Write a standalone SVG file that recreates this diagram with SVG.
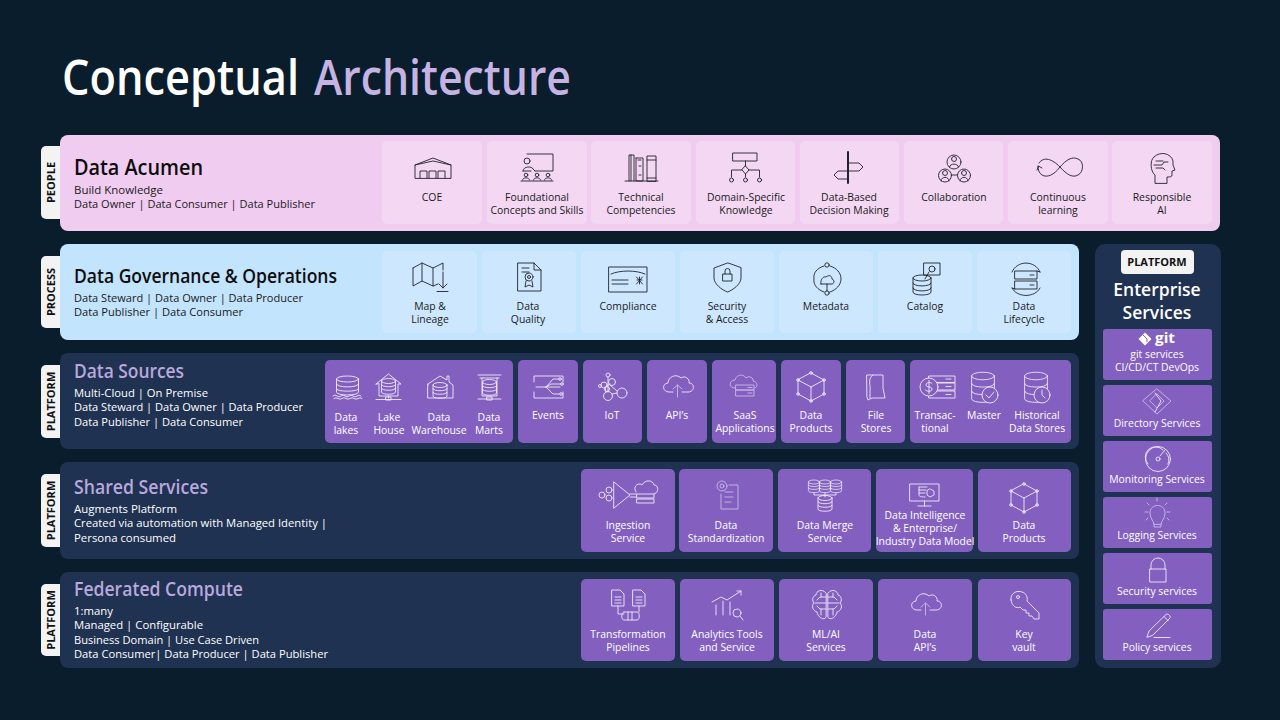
<svg xmlns="http://www.w3.org/2000/svg" width="1280" height="720" viewBox="0 0 1280 720">
<style>
text{font-family:"Open Sans","Noto Sans","Liberation Sans",sans-serif}
.band{fill:#1f3252}
.pc{fill:#f3d7f3}.bc{fill:#cde8fe}.vc{fill:#8360c0}
.tab{fill:#f3f3f3}
.tt{font-size:11px;font-weight:700;fill:#111;text-anchor:middle}
.dl,.wl{font-size:10.4px;text-anchor:middle}
.dl{fill:#1a1a1a}.wl{fill:#fff}
.h{font-size:19px;font-weight:600}
.hd{fill:#0d0d0d}.hv{fill:#b9a8dc}
.sd,.sw{font-size:11px}
.sd{fill:#1a1a1a}.sw{fill:#fff}
.id,.iw{fill:none;stroke-width:.9;stroke-linejoin:round;stroke-linecap:round}
.id{stroke:#22222e}.iw{stroke:#f0eaf8}
.dim{stroke:#c9b9e6}
.cut{fill:#8360c0}
</style>
<defs>
<g id="cube"><path d="M0-14L13-7V7L0 14L-13 7V-7ZM0 0V14M0 0L-13-7M0 0L13-7"/><circle cy="-14" r="1.300"/><circle cx="13" cy="-7" r="1.300"/><circle cx="13" cy="7" r="1.300"/><circle cy="14" r="1.300"/><circle cx="-13" cy="7" r="1.300"/><circle cx="-13" cy="-7" r="1.300"/></g>
<g id="cloudup"><path d="M11 17H7C1 17-1 9 6 8C6 2 14-2 19 3C23 0 28 4 27 8C33 8 33 17 26 17H20"/><path class="dim" d="M15.500 22V10M11 14L15.500 10L20 14"/></g>
<g id="dbs"><ellipse cx="0" cy="0" rx="12" ry="4"/><path d="M-12 0V24C-12 29 12 29 12 24V0M-12 8C-12 13 12 13 12 8M-12 16C-12 21 12 21 12 16"/></g>
<g id="dbm"><ellipse cx="0" cy="0" rx="7" ry="2.500"/><path d="M-7 0V11C-7 14 7 14 7 11V0M-7 3.700C-7 6.500 7 6.500 7 3.700M-7 7.400C-7 10 7 10 7 7.400"/></g>
</defs>
<rect width="1280" height="720" fill="#0a1d2c"/>
<text x="62" y="95" font-size="48" font-weight="600" fill="#fff" textLength="237" lengthAdjust="spacingAndGlyphs">Conceptual</text>
<text x="314" y="95" font-size="48" font-weight="600" fill="#c5b4e3" textLength="257" lengthAdjust="spacingAndGlyphs">Architecture</text>

<g id="tabs">
<path class="tab" d="M60 146H46a5 5 0 0 0-5 5V214a5 5 0 0 0 5 5H60Z"/><text class="tt" transform="translate(54.500 182.500) rotate(-90)">PEOPLE</text>
<path class="tab" d="M60 256H46a5 5 0 0 0-5 5V323a5 5 0 0 0 5 5H60Z"/><text class="tt" transform="translate(54.500 292) rotate(-90)">PROCESS</text>
<path class="tab" d="M60 365H46a5 5 0 0 0-5 5V433a5 5 0 0 0 5 5H60Z"/><text class="tt" transform="translate(54.500 401.500) rotate(-90)">PLATFORM</text>
<path class="tab" d="M60 474H46a5 5 0 0 0-5 5V542a5 5 0 0 0 5 5H60Z"/><text class="tt" transform="translate(54.500 510.500) rotate(-90)">PLATFORM</text>
<path class="tab" d="M60 584H46a5 5 0 0 0-5 5V651a5 5 0 0 0 5 5H60Z"/><text class="tt" transform="translate(54.500 620) rotate(-90)">PLATFORM</text>
</g>

<g id="data-acumen">
<rect x="60" y="135" width="1160" height="96" rx="8" fill="#f0cdf0"/>
<text class="h hd" x="74" y="175" style="font-size:21px" textLength="129" lengthAdjust="spacingAndGlyphs">Data Acumen</text>
<text class="sd" x="74" y="194" textLength="89" lengthAdjust="spacingAndGlyphs">Build Knowledge</text>
<text class="sd" x="74" y="208" textLength="241" lengthAdjust="spacingAndGlyphs">Data Owner | Data Consumer | Data Publisher</text>
</g>
<g id="coe"><rect class="pc" x="382" y="141" width="100" height="83" rx="5"/>
<g class="id"><path d="M415 178V165L433 158L451 165V178ZM415 165L433 161L451 165M420 178V171H427V178M429 178V171H436V178M438 178V171H445V178"/></g>
<text class="dl" x="432" y="201">COE</text></g>
<g id="foundational"><rect class="pc" x="487" y="141" width="100" height="83" rx="5"/>
<g class="id"><path d="M527 154H553V171H535M521 181H553M523 171C523 166 532 166 533 169L535 171M523 171H531"/><circle cx="527" cy="161" r="3"/><circle cx="526" cy="175" r="1.800"/><circle cx="537" cy="175" r="1.800"/><circle cx="548" cy="175" r="1.800"/><path d="M522.500 180C522.500 177 529.500 177 529.500 180M533.500 180C533.500 177 540.500 177 540.500 180M544.500 180C544.500 177 551.500 177 551.500 180"/></g>
<text class="dl" x="537" y="201">Foundational</text><text class="dl" x="537" y="214">Concepts and Skills</text></g>
<g id="technical"><rect class="pc" x="591" y="141" width="100" height="83" rx="5"/>
<g class="id"><path d="M625 181H658M629 181V155H634V181M631 155V181M636 158H643V181H636V158M638 160H641M639 166H641M639 175H641M647 181V156H656V181ZM647 160H656M647 178H656"/></g>
<text class="dl" x="641" y="201">Technical</text><text class="dl" x="641" y="214">Competencies</text></g>
<g id="domain"><rect class="pc" x="696" y="141" width="99" height="83" rx="5"/>
<g class="id"><rect x="733" y="153" width="24" height="8"/><path d="M745.500 161V166M745.500 166L749 170L745.500 174L742 170ZM742 170H731.500V177M749 170H759.500V177M745.500 174V177"/><circle cx="731.500" cy="180" r="2"/><circle cx="745.500" cy="180" r="2"/><circle cx="759.500" cy="180" r="2"/></g>
<text class="dl" x="746" y="201">Domain-Specific</text><text class="dl" x="746" y="214">Knowledge</text></g>
<g id="decision"><rect class="pc" x="800" y="141" width="99" height="83" rx="5"/>
<g class="id"><path stroke-width="2" d="M848 152V183"/><path d="M848 163H859L863 167L859 171H848M848 171H838L834 175L838 179H848"/></g>
<text class="dl" x="849" y="201">Data-Based</text><text class="dl" x="849" y="214">Decision Making</text></g>
<g id="collaboration"><rect class="pc" x="904" y="141" width="99" height="83" rx="5"/>
<g class="id"><circle cx="954" cy="162" r="7"/><circle cx="945" cy="175.500" r="6.500"/><circle cx="964" cy="175.500" r="6.500"/><path d="M951.500 159a2.500 2.500 0 1 1 5 0a2.500 2.500 0 1 1-5 0M949.500 167C950 163 958 163 958.500 167M951.500 175H957.500M942.500 173a2.500 2.500 0 1 1 5 0a2.500 2.500 0 1 1-5 0M961.500 173a2.500 2.500 0 1 1 5 0a2.500 2.500 0 1 1-5 0M941 181C941 176 949 176 949 181M960 181C960 176 968 176 968 181"/></g>
<text class="dl" x="954" y="201">Collaboration</text></g>
<g id="continuous"><rect class="pc" x="1008" y="141" width="100" height="83" rx="5"/>
<g class="id"><path d="M1039 163C1044 156 1052 159 1060 167C1067 175 1073 178 1078 175C1084 172 1084 161 1078 159C1072 156 1066 160 1060 167C1054 175 1047 178 1042 175C1039 173 1038 170 1038 166M1037 170L1038.500 166L1042 168"/></g>
<text class="dl" x="1058" y="201">Continuous</text><text class="dl" x="1058" y="214">learning</text></g>
<g id="responsible"><rect class="pc" x="1112" y="141" width="100" height="83" rx="5"/>
<g class="id"><path d="M1155 183V175C1150 171 1150 160 1154 157C1160 151 1171 153 1173 161L1173 165L1175 170L1172 171V175C1172 177 1170 177 1167 177V183ZM1154 165H1162L1164 162H1168M1156 168H1163L1165 170M1156 161H1163"/></g>
<text class="dl" x="1162" y="201">Responsible</text><text class="dl" x="1162" y="214">AI</text></g>

<g id="data-governance">
<rect x="60" y="244" width="1019" height="96" rx="8" fill="#c3e4fd"/>
<text class="h hd" x="74" y="283" textLength="263" lengthAdjust="spacingAndGlyphs">Data Governance &amp; Operations</text>
<text class="sd" x="74" y="302" textLength="229" lengthAdjust="spacingAndGlyphs">Data Steward | Data Owner | Data Producer</text>
<text class="sd" x="74" y="316" textLength="169" lengthAdjust="spacingAndGlyphs">Data Publisher | Data Consumer</text>
</g>
<g id="map"><rect class="bc" x="382" y="251" width="95" height="82" rx="5"/>
<g class="id"><path d="M413 268L422 263L433 268L443 263V270M413 268V286L422 281L433 286L438 284M422 263V281M433 268V286M443 272V288M439 284L443 288L447 284"/><path d="M437 291.500H448"/></g>
<text class="dl" x="430" y="310">Map &amp;</text><text class="dl" x="430" y="323">Lineage</text></g>
<g id="quality"><rect class="bc" x="482" y="251" width="94" height="82" rx="5"/>
<g class="id"><path d="M518 263H534L541 270V291H518ZM534 263V270H541M522 268H529M522 272H529"/><circle cx="529" cy="277" r="4"/><circle cx="529" cy="277" r="1.500"/><path d="M526 281L525 287L529 285L533 287L532 281"/></g>
<text class="dl" x="528" y="310">Data</text><text class="dl" x="528" y="323">Quality</text></g>
<g id="compliance"><rect class="bc" x="581" y="251" width="94" height="82" rx="5"/>
<g class="id"><rect x="609" y="267" width="38" height="25"/><path d="M611 274C620 270 636 270 645 274M612 280H628M612 284H628M637 280L642 280M639.500 277L639.500 284M636.500 284L642.500 277M636.500 277L642.500 284"/></g>
<text class="dl" x="628" y="310">Compliance</text></g>
<g id="security"><rect class="bc" x="680" y="251" width="94" height="82" rx="5"/>
<g class="id"><path d="M727.500 263L714 268V278C714 284 722 290 727.500 292C733 290 741 284 741 278V268Z"/><rect x="723" y="274" width="9" height="7"/><path d="M725 274V271A2.500 2.500 0 0 1 730 271V274"/></g>
<text class="dl" x="727" y="310">Security</text><text class="dl" x="727" y="323">&amp; Access</text></g>
<g id="metadata"><rect class="bc" x="779" y="251" width="94" height="82" rx="5"/>
<g class="id"><circle cx="827" cy="265" r="2.200"/><circle cx="827" cy="293" r="2.200"/><path d="M824 266C817 268 813 273 814 279C813 285 818 290 824 292M830 266C837 268 841 273 841 279C841 285 836 290 830 292M827 291V284M821 284H832C834 284 835 280 832 279C832 275 828 275 826 277C823 276 820 280 821 284Z"/></g>
<text class="dl" x="826" y="310">Metadata</text></g>
<g id="catalog"><rect class="bc" x="878" y="251" width="94" height="82" rx="5"/>
<g class="id"><rect x="924" y="263" width="16" height="12"/><circle cx="932" cy="269" r="3"/><path d="M929 272L925 279"/><ellipse cx="922" cy="278" rx="9" ry="3"/><path d="M913 278V292C913 296 931 296 931 292V278M913 283C913 287 931 287 931 283M913 288C913 292 931 292 931 288"/></g>
<text class="dl" x="925" y="310">Catalog</text></g>
<g id="lifecycle"><rect class="bc" x="977" y="251" width="94" height="82" rx="5"/>
<g class="id"><rect x="1015" y="271" width="22" height="8"/><rect x="1015" y="281" width="22" height="8"/><path d="M1012 272C1017 260 1035 260 1040 272M1040 288C1035 298 1017 298 1012 288M1040 272L1037 271M1012 288L1015 289M1030 275H1034M1030 285H1034"/></g>
<text class="dl" x="1024" y="310">Data</text><text class="dl" x="1024" y="323">Lifecycle</text></g>

<g id="data-sources">
<rect class="band" x="60" y="353" width="1019" height="96" rx="8"/>
<text class="h hv" x="74" y="378" textLength="110" lengthAdjust="spacingAndGlyphs">Data Sources</text>
<text class="sw" x="74" y="397" textLength="134" lengthAdjust="spacingAndGlyphs">Multi-Cloud | On Premise</text>
<text class="sw" x="74" y="411" textLength="229" lengthAdjust="spacingAndGlyphs">Data Steward | Data Owner | Data Producer</text>
<text class="sw" x="74" y="426" textLength="169" lengthAdjust="spacingAndGlyphs">Data Publisher | Data Consumer</text>
</g>
<g id="stores-group"><rect class="vc" x="325" y="360" width="188" height="83" rx="5"/>
<g class="iw"><ellipse cx="347.500" cy="379" rx="11" ry="3"/><path d="M336.500 379V392C336.500 396 358.500 396 358.500 392V379M336.500 384C336.500 388 358.500 388 358.500 384M336.500 389C336.500 392 358.500 392 358.500 389M333 396Q335 394 337 396T341 396T345 396T349 396T353 396T357 396T361 396M334 398.500Q336 397 338 398.500T342 398.500T346 398.500T350 398.500T354 398.500T358 398.500T362 398.500"/></g>
<g class="iw"><path d="M376 384L388.500 374L401 384H398V396H379V384ZM376 399.500H401M388.500 396V398"/><g transform="translate(388.500 381)"><use href="#dbm"/></g><rect x="386" y="397" width="5" height="3"/></g>
<g class="iw"><path d="M428 384L440 376L447 380V376H449V382L453 385V398H428ZM428 385V384"/><g transform="translate(440 385)"><use href="#dbm"/></g></g>
<g class="iw"><path d="M478 375H501M480 378H499M482 378V396H497V378M478 399H501"/><g transform="translate(489.500 382)"><use href="#dbm"/></g><rect x="487" y="397" width="5" height="3"/></g>
<text class="wl" x="346" y="421">Data</text><text class="wl" x="346" y="434">lakes</text>
<text class="wl" x="389" y="421">Lake</text><text class="wl" x="389" y="434">House</text>
<text class="wl" x="439" y="421">Data</text><text class="wl" x="439" y="434">Warehouse</text>
<text class="wl" x="489" y="421">Data</text><text class="wl" x="489" y="434">Marts</text>
</g>
<g id="events"><rect class="vc" x="518" y="360" width="60" height="83" rx="5"/>
<g class="iw"><path d="M534 382V376H563V382M534 392V398H563V392M536 387H546L553 379H559M546 387L551 384H561M546 387H560M546 387L553 394H559"/><circle cx="560" cy="379" r="1.300"/><circle cx="562" cy="384" r="1.300"/><circle cx="561" cy="394" r="1.300"/></g>
<text class="wl" x="548" y="419">Events</text></g>
<g id="iot"><rect class="vc" x="583" y="360" width="59" height="83" rx="5"/>
<g class="iw"><circle cx="608" cy="375" r="2"/><circle cx="612" cy="382" r="3.500"/><circle cx="604" cy="385" r="3"/><circle cx="600" cy="386" r="1.500"/><circle cx="607" cy="389" r="2.500"/><circle cx="608" cy="396" r="4.500"/><circle cx="622" cy="393" r="5"/><path d="M608 377V392M610 385L617 391M605 387L606 392M612 394L617 393M607 386L610 384"/></g>
<text class="wl" x="612" y="419">IoT</text></g>
<g id="apis"><rect class="vc" x="647" y="360" width="60" height="83" rx="5"/>
<g class="iw"><use href="#cloudup" x="662" y="375"/></g>
<text class="wl" x="677" y="419">API’s</text></g>
<g id="saas"><rect class="vc" x="712" y="360" width="64" height="83" rx="5"/>
<g class="iw dim"><path d="M735 388C728 388 729 380 735 380C736 375 743 373 746 378C749 375 754 378 753 381C758 382 758 387 755 388M736 385H754V390H736ZM736 390H754V396H736ZM748 387.500H752M748 393H752"/></g>
<text class="wl" x="745" y="419">SaaS</text><text class="wl" x="745" y="432">Applications</text></g>
<g id="products-a"><rect class="vc" x="781" y="360" width="60" height="83" rx="5"/>
<g class="iw"><use href="#cube" x="811" y="387"/></g>
<text class="wl" x="811" y="419">Data</text><text class="wl" x="811" y="432">Products</text></g>
<g id="file-stores"><rect class="vc" x="846" y="360" width="59" height="83" rx="5"/>
<g class="iw"><path d="M867 375H883V388L885 398H872L868 400L867 397ZM873 375C867 379 871 385 870 391V398"/></g>
<text class="wl" x="876" y="419">File</text><text class="wl" x="876" y="432">Stores</text></g>
<g id="transactional-group"><rect class="vc" x="910" y="360" width="161" height="83" rx="5"/>
<g class="iw"><path d="M929 376H955V382.500H929ZM929 383H955V390H929ZM929 391H955V398H929Z"/><circle class="cut" cx="929" cy="387" r="9"/><path d="M932 383.500C931 382 926 382 926 385C926 388 932 386 932 389C932 392 927 392 925.500 390M929 380.500V393.500M946 379H951M946 386.500H951M946 394.500H951"/></g>
<g class="iw"><g transform="translate(983 376) scale(.95)"><use href="#dbs"/></g><circle class="cut" cx="990" cy="395" r="8"/><path d="M986 395L989 398L994 392"/></g>
<g class="iw"><g transform="translate(1036 376) scale(.95)"><use href="#dbs"/></g><circle class="cut" cx="1042" cy="395" r="8"/><path d="M1042 390V395L1045 398"/></g>
<text class="wl" x="935" y="419">Transac-</text><text class="wl" x="935" y="432">tional</text>
<text class="wl" x="984" y="419">Master</text>
<text class="wl" x="1037" y="419">Historical</text><text class="wl" x="1037" y="432">Data Stores</text></g>

<g id="shared-services">
<rect class="band" x="60" y="462" width="1019" height="97" rx="8"/>
<text class="h hv" x="74" y="494" textLength="134" lengthAdjust="spacingAndGlyphs">Shared Services</text>
<text class="sw" x="74" y="513" textLength="103" lengthAdjust="spacingAndGlyphs">Augments Platform</text>
<text class="sw" x="74" y="527" textLength="253" lengthAdjust="spacingAndGlyphs">Created via automation with Managed Identity |</text>
<text class="sw" x="74" y="542" textLength="102" lengthAdjust="spacingAndGlyphs">Persona consumed</text>
</g>
<g id="ingestion"><rect class="vc" x="581" y="469" width="94" height="83" rx="5"/>
<g class="iw"><circle cx="602" cy="495" r="3"/><circle cx="609" cy="490" r="3"/><circle cx="609" cy="498" r="3"/><path d="M614 482L630 495L614 508ZM630 494H636M630 497H636M636 492C632 486 639 482 642 485C645 479 653 480 654 485C659 485 659 493 654 494M637 494H654V498H637ZM637 499H654V503H637Z"/></g>
<text class="wl" x="628" y="529">Ingestion</text><text class="wl" x="628" y="542">Service</text></g>
<g id="standardization"><rect class="vc" x="679" y="469" width="94" height="83" rx="5"/>
<g class="iw dim"><circle cx="722" cy="486" r="5"/><circle cx="722" cy="486" r="2"/><path d="M729 485H738V509H721V494M725 492H733M725 497H733M725 502H731"/></g>
<text class="wl" x="726" y="529">Data</text><text class="wl" x="726" y="542">Standardization</text></g>
<g id="merge"><rect class="vc" x="778" y="469" width="93" height="83" rx="5"/>
<g class="iw"><g transform="translate(814 482) scale(.8)"><use href="#dbm"/></g><g transform="translate(825 482) scale(.8)"><use href="#dbm"/></g><g transform="translate(836 482) scale(.8)"><use href="#dbm"/></g><g transform="translate(825 498)"><use href="#dbm"/></g><path d="M814 493V495H836V493M825 493V497"/></g>
<text class="wl" x="825" y="529">Data Merge</text><text class="wl" x="825" y="542">Service</text></g>
<g id="intelligence"><rect class="vc" x="876" y="469" width="97" height="83" rx="5"/>
<g class="iw"><rect x="910" y="484" width="29" height="17"/><path d="M924.500 501V506M918 506H931M919 487H927M919 487V495C919 497 924 497 925 497M919 490H926M919 493H925M930 489L934 491V495L930 497L927 495V491Z"/></g>
<text class="wl" x="925" y="519">Data Intelligence</text><text class="wl" x="925" y="532">&amp; Enterprise/</text><text class="wl" x="925" y="545">Industry Data Model</text></g>
<g id="products-b"><rect class="vc" x="978" y="469" width="93" height="83" rx="5"/>
<g class="iw"><use href="#cube" x="1024" y="498"/></g>
<text class="wl" x="1024" y="529">Data</text><text class="wl" x="1024" y="542">Products</text></g>

<g id="federated-compute">
<rect class="band" x="60" y="572" width="1019" height="96" rx="8"/>
<text class="h hv" x="74" y="596" textLength="169" lengthAdjust="spacingAndGlyphs">Federated Compute</text>
<text class="sw" x="74" y="615" textLength="39" lengthAdjust="spacingAndGlyphs">1:many</text>
<text class="sw" x="74" y="629" textLength="129" lengthAdjust="spacingAndGlyphs">Managed | Configurable</text>
<text class="sw" x="74" y="644" textLength="185" lengthAdjust="spacingAndGlyphs">Business Domain | Use Case Driven</text>
<text class="sw" x="74" y="658" textLength="254" lengthAdjust="spacingAndGlyphs">Data Consumer| Data Producer | Data Publisher</text>
</g>
<g id="transformation"><rect class="vc" x="581" y="579" width="94" height="82" rx="5"/>
<g class="iw"><path d="M612 590H620L624 594V606H612ZM633 590H641L645 594V606H633ZM615 597H621M615 600H621M615 603H621M636 597H642M636 600H642M636 603H642M618 606V614H624M639 606V612M624 612H637C640 612 640 620 637 620H624C621 620 621 612 624 612M628 612V620M632 612V620"/></g>
<text class="wl" x="628" y="638">Transformation</text><text class="wl" x="628" y="651">Pipelines</text></g>
<g id="analytics"><rect class="vc" x="680" y="579" width="94" height="82" rx="5"/>
<g class="iw"><path d="M712 602L721 597L727 600L741 591M737 591H741V595M716 605V615M723 601V615M730 602V615"/><circle cx="737" cy="613" r="4"/><path d="M740 616L743 620"/></g>
<text class="wl" x="727" y="638">Analytics Tools</text><text class="wl" x="727" y="651">and Service</text></g>
<g id="mlai"><rect class="vc" x="779" y="579" width="94" height="82" rx="5"/>
<g class="iw"><path d="M826 593C822 588 816 591 816 595C812 596 812 601 814 603C811 606 813 611 817 612C818 618 825 621 826 617ZM828 593C832 588 838 591 838 595C842 596 842 601 840 603C843 606 841 611 837 612C836 618 829 621 828 617ZM826 597H820L817 600M826 603H815M826 609H820L817 606M828 597H834L837 600M828 603H839M828 609H834L837 606M821 593V597M833 593V597M821 609V615M833 609V615"/></g>
<text class="wl" x="826" y="638">ML/AI</text><text class="wl" x="826" y="651">Services</text></g>
<g id="data-apis"><rect class="vc" x="878" y="579" width="94" height="82" rx="5"/>
<g class="iw"><use href="#cloudup" x="910" y="593"/></g>
<text class="wl" x="925" y="638">Data</text><text class="wl" x="925" y="651">API’s</text></g>
<g id="keyvault"><rect class="vc" x="978" y="579" width="93" height="82" rx="5"/>
<g class="iw"><path d="M1011 600C1010 593 1017 590 1022 592C1026 593 1028 597 1027 601L1039 613V619H1034L1032 616H1029V613H1026V610H1023L1020 607C1016 609 1012 606 1011 600Z"/><circle cx="1018" cy="597" r="1.500"/></g>
<text class="wl" x="1024" y="638">Key</text><text class="wl" x="1024" y="651">vault</text></g>

<g id="enterprise-services">
<rect class="band" x="1095" y="244" width="126" height="424" rx="10"/>
<rect class="tab" x="1121" y="250" width="73" height="24" rx="4"/>
<text x="1157" y="266" text-anchor="middle" font-size="11" font-weight="700" fill="#111">PLATFORM</text>
<text x="1157" y="296" text-anchor="middle" font-size="17.500" font-weight="600" fill="#fff">Enterprise</text>
<text x="1157" y="319" text-anchor="middle" font-size="17.500" font-weight="600" fill="#fff">Services</text>
</g>
<g id="git"><rect class="vc" x="1103" y="329" width="109" height="51" rx="3"/>
<path d="M1145 332.500L1151.500 339L1145 345.500L1138.500 339Z" fill="#fff"/><path d="M1143 335L1147 339V342M1147 339L1145 337" fill="none" stroke="#8360c0" stroke-width="1"/>
<text x="1165" y="343" text-anchor="middle" font-size="14" font-weight="700" fill="#fff" textLength="20" lengthAdjust="spacingAndGlyphs">git</text>
<text class="wl" x="1157" y="358">git services</text><text class="wl" x="1157" y="371">CI/CD/CT DevOps</text></g>
<g id="directory"><rect class="vc" x="1103" y="385" width="109" height="51" rx="3"/>
<g class="iw"><path d="M1157 389L1171 401L1157 414L1143 401ZM1157 394L1164 401L1157 408L1150 401Z" class="dim"/><path d="M1155 393L1161 401L1155 412"/></g>
<text class="wl" x="1157" y="427">Directory Services</text></g>
<g id="monitoring"><rect class="vc" x="1103" y="441" width="109" height="51" rx="3"/>
<g class="iw"><circle cx="1158" cy="459" r="12.500"/><path d="M1148 464A10 10 0 0 1 1163 450M1166 453A10 10 0 0 1 1168 464M1160 456L1165 450"/><circle cx="1158" cy="459" r="2"/></g>
<text class="wl" x="1157" y="483">Monitoring Services</text></g>
<g id="logging"><rect class="vc" x="1103" y="497" width="109" height="51" rx="3"/>
<g class="iw dim"><path d="M1154 524C1153 520 1150 518 1150 513C1150 503 1165 503 1165 513C1165 518 1162 520 1161 524ZM1154 524V527H1161V524M1157 501V498M1149 505L1147 503M1165 505L1167 503M1145 512H1148M1167 512H1170M1148 518L1146 520M1167 518L1169 520"/></g>
<text class="wl" x="1157" y="539">Logging Services</text></g>
<g id="security-services"><rect class="vc" x="1103" y="553" width="109" height="51" rx="3"/>
<g class="iw"><rect x="1150" y="569" width="16" height="13"/><path d="M1151 569V565A7 7 0 0 1 1165 565V569"/></g>
<text class="wl" x="1157" y="595">Security services</text></g>
<g id="policy"><rect class="vc" x="1103" y="609" width="109" height="51" rx="3"/>
<g class="iw"><path d="M1147 637L1149 631L1166 614.500C1168 613 1171 616 1170 618L1153 635ZM1164 616.500L1168 620.500M1154 637.500H1170"/></g>
<text class="wl" x="1157" y="651">Policy services</text></g>
</svg>
